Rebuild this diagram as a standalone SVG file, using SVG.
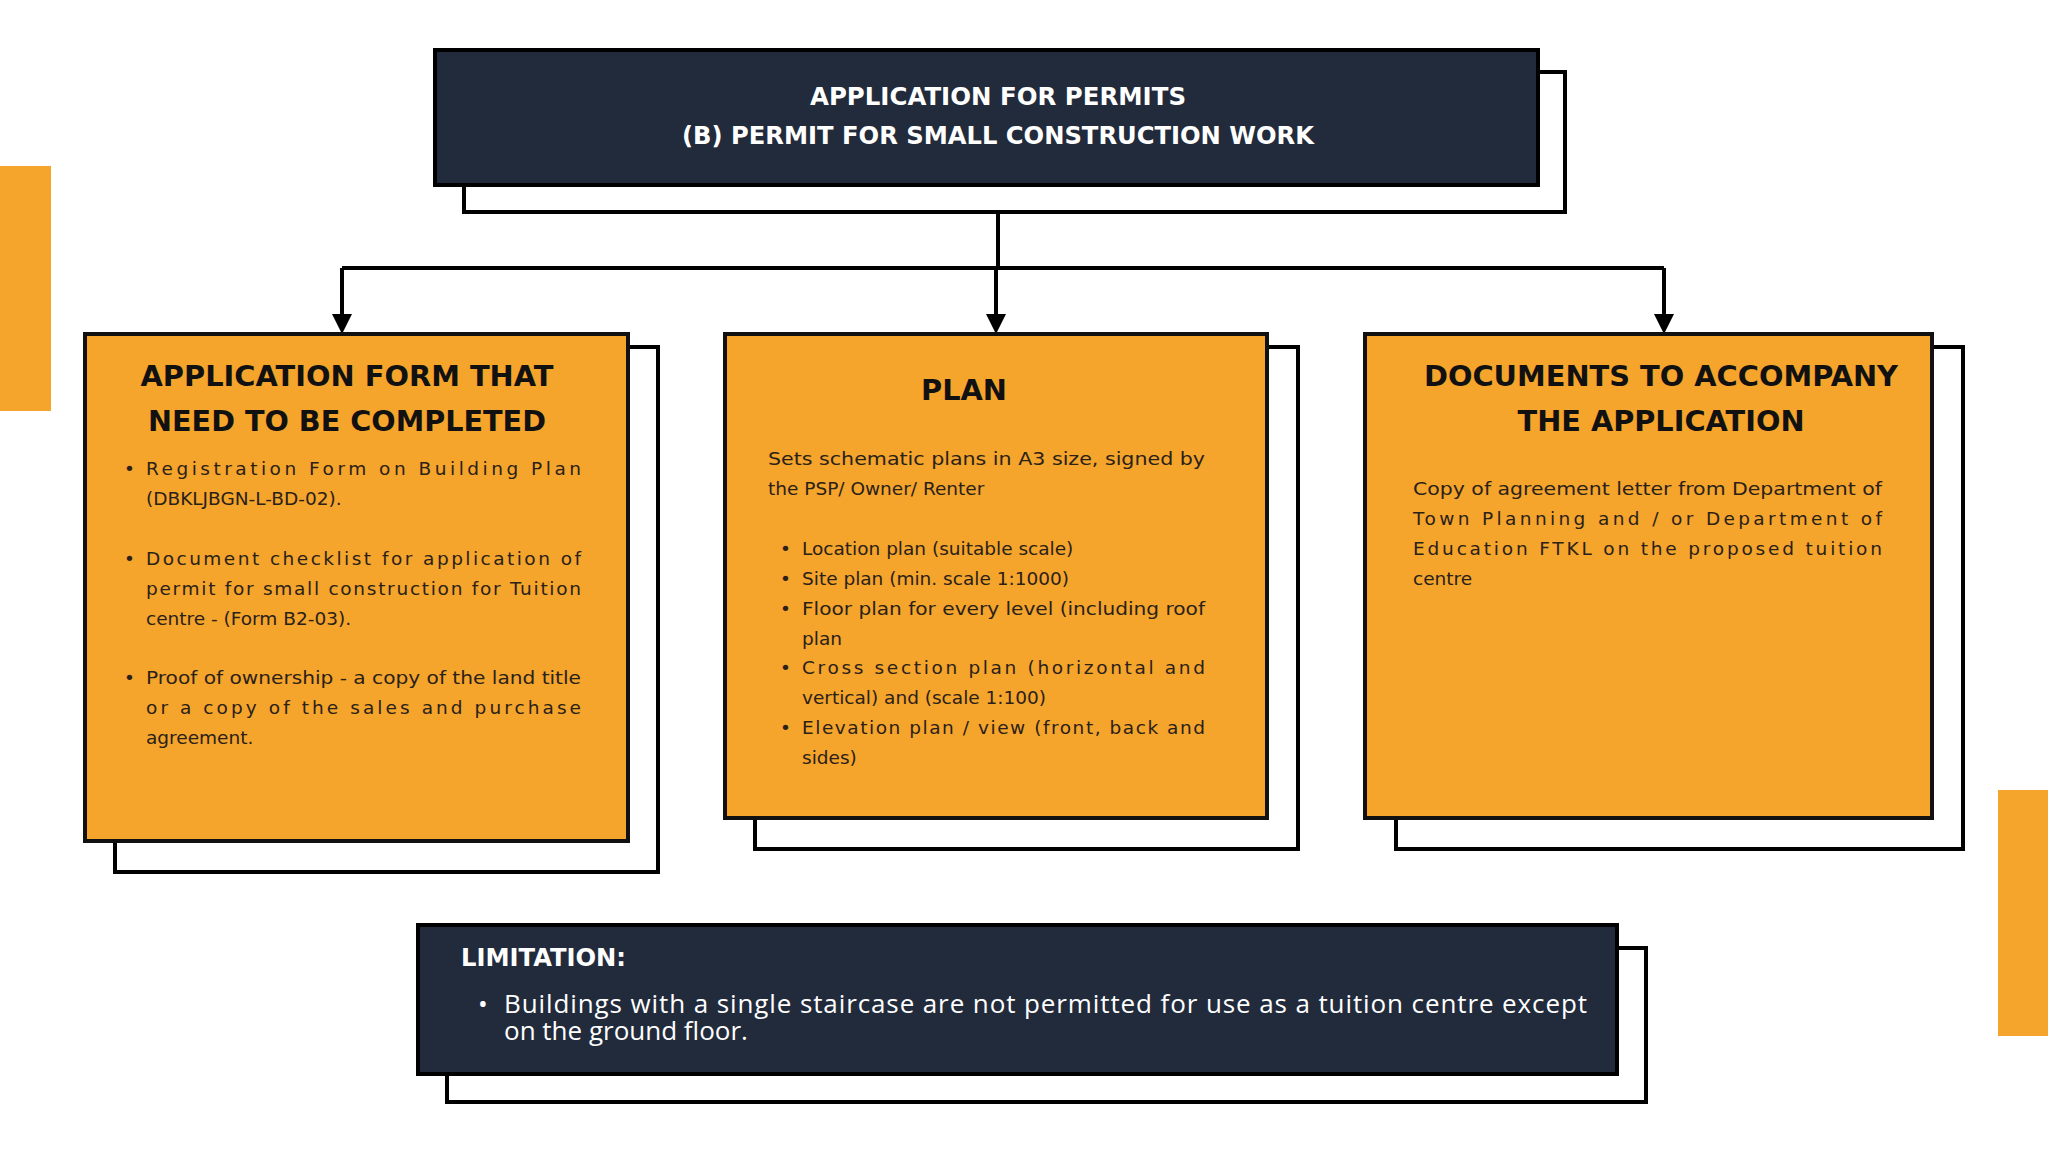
<svg xmlns="http://www.w3.org/2000/svg" width="2048" height="1152" viewBox="0 0 2048 1152">
<style>
.sh{fill:#fff;stroke:#000;stroke-width:4}
.or{fill:#F5A42C;stroke:#111;stroke-width:4}
.nv{fill:#222B3C;stroke:#000;stroke-width:4}
.wt{font-family:"DejaVu Sans","Open Sans",sans-serif;font-weight:700;fill:#fff}
.bt{font-family:"DejaVu Sans","Open Sans",sans-serif;font-weight:700;fill:#111;font-size:28px;text-anchor:middle}
.tx{font-family:"DejaVu Sans","Open Sans",sans-serif;fill:#2a2118;font-size:18.5px}
.ln{fill:none;stroke:#000;stroke-width:4}
</style>
<defs><marker id="ar" markerWidth="6" markerHeight="6" refX="3" refY="3" orient="auto" markerUnits="strokeWidth"><path d="M0,0.5 L5,3 L0,5.5 z" fill="#000"/></marker></defs>
<rect x="0" y="166" width="51" height="245" fill="#F5A42C"/>
<rect x="1998" y="790" width="50" height="246" fill="#F5A42C"/>
<g id="connectors">
<path class="ln" d="M998,190 V268"/>
<path class="ln" d="M342,268 H1664"/>
<path class="ln" d="M342,268 V326" marker-end="url(#ar)"/>
<path class="ln" d="M996,268 V326" marker-end="url(#ar)"/>
<path class="ln" d="M1664,268 V326" marker-end="url(#ar)"/>
</g>
<g id="top">
<rect class="sh" x="464" y="72" width="1101" height="140"/>
<rect class="nv" x="435" y="50" width="1103" height="135"/>
<text class="wt" font-size="24" text-anchor="middle" x="998" y="105" textLength="376" lengthAdjust="spacingAndGlyphs">APPLICATION FOR PERMITS</text>
<text class="wt" font-size="24" text-anchor="middle" x="998" y="144" textLength="632" lengthAdjust="spacingAndGlyphs">(B) PERMIT FOR SMALL CONSTRUCTION WORK</text>
</g>
<g id="left">
<rect class="sh" x="115" y="347" width="543" height="525"/>
<rect class="or" x="85" y="334" width="543" height="507"/>
<text class="bt" x="347" y="386" textLength="413" lengthAdjust="spacingAndGlyphs">APPLICATION FORM THAT</text>
<text class="bt" x="347" y="431" textLength="398" lengthAdjust="spacingAndGlyphs">NEED TO BE COMPLETED</text>
<g class="tx">
<text x="124" y="475">•</text><text x="146" y="475" textLength="435" lengthAdjust="spacing">Registration Form on Building Plan</text>
<text x="146" y="505">(DBKLJBGN-L-BD-02).</text>
<text x="124" y="565">•</text><text x="146" y="565" textLength="435" lengthAdjust="spacing">Document checklist for application of</text>
<text x="146" y="595" textLength="435" lengthAdjust="spacing">permit for small construction for Tuition</text>
<text x="146" y="625">centre - (Form B2-03).</text>
<text x="124" y="684">•</text><text x="146" y="684" textLength="435" lengthAdjust="spacingAndGlyphs">Proof of ownership - a copy of the land title</text>
<text x="146" y="714" textLength="435" lengthAdjust="spacing">or a copy of the sales and purchase</text>
<text x="146" y="744">agreement.</text>
</g>
</g>
<g id="plan">
<rect class="sh" x="755" y="347" width="543" height="502"/>
<rect class="or" x="725" y="334" width="542" height="484"/>
<text class="bt" x="964" y="400" textLength="86" lengthAdjust="spacingAndGlyphs">PLAN</text>
<g class="tx">
<text x="768" y="465" textLength="437" lengthAdjust="spacingAndGlyphs">Sets schematic plans in A3 size, signed by</text>
<text x="768" y="495">the PSP/ Owner/ Renter</text>
<text x="780" y="555">•</text><text x="802" y="555">Location plan (suitable scale)</text>
<text x="780" y="585">•</text><text x="802" y="585">Site plan (min. scale 1:1000)</text>
<text x="780" y="615">•</text><text x="802" y="615" textLength="403" lengthAdjust="spacingAndGlyphs">Floor plan for every level (including roof</text>
<text x="802" y="645">plan</text>
<text x="780" y="674">•</text><text x="802" y="674" textLength="403" lengthAdjust="spacing">Cross section plan (horizontal and</text>
<text x="802" y="704">vertical) and (scale 1:100)</text>
<text x="780" y="734">•</text><text x="802" y="734" textLength="403" lengthAdjust="spacing">Elevation plan / view (front, back and</text>
<text x="802" y="764">sides)</text>
</g>
</g>
<g id="docs">
<rect class="sh" x="1396" y="347" width="567" height="502"/>
<rect class="or" x="1365" y="334" width="567" height="484"/>
<text class="bt" x="1661" y="386" textLength="474" lengthAdjust="spacingAndGlyphs">DOCUMENTS TO ACCOMPANY</text>
<text class="bt" x="1661" y="431" textLength="287" lengthAdjust="spacingAndGlyphs">THE APPLICATION</text>
<g class="tx">
<text x="1413" y="495" textLength="469" lengthAdjust="spacingAndGlyphs">Copy of agreement letter from Department of</text>
<text x="1413" y="525" textLength="469" lengthAdjust="spacing">Town Planning and / or Department of</text>
<text x="1413" y="555" textLength="469" lengthAdjust="spacing">Education FTKL on the proposed tuition</text>
<text x="1413" y="585">centre</text>
</g>
</g>
<g id="limitation">
<rect class="sh" x="447" y="948" width="1199" height="154"/>
<rect class="nv" x="418" y="925" width="1199" height="149"/>
<text class="wt" font-size="24" x="461" y="966" textLength="165" lengthAdjust="spacingAndGlyphs">LIMITATION:</text>
<g font-family="'Open Sans','Liberation Sans',sans-serif" fill="#fff" font-size="26">
<text x="478" y="1013">•</text>
<text x="504" y="1013" textLength="1083" lengthAdjust="spacing">Buildings with a single staircase are not permitted for use as a tuition centre except</text>
<text x="504" y="1040">on the ground floor.</text>
</g>
</g>
</svg>
